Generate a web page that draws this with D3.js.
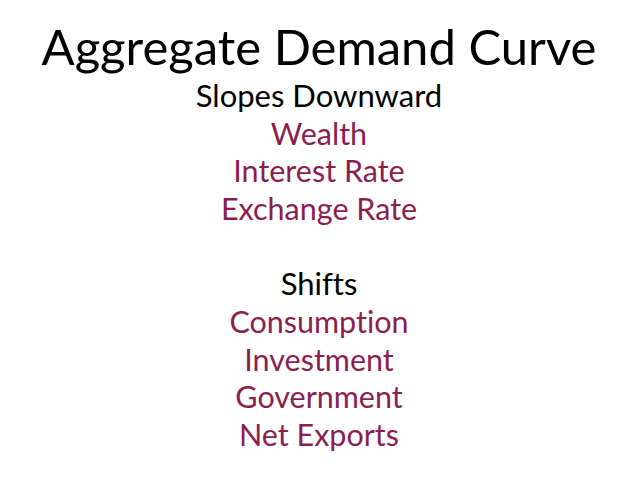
<!DOCTYPE html>
<html>
<head>
<meta charset="utf-8">
<script src="https://cdn.jsdelivr.net/npm/d3@7"></script>
<style>
  html, body { margin: 0; padding: 0; background: #fff; }
  svg { display: block; }
  text { font-variant-ligatures: none; }
</style>
</head>
<body>
<div id="slide"></div>
<script>
const width = 638
const height = 479

const TITLE = 'Aggregate Demand Curve'
// rows of the bullet list, '' is an empty row
const rows = ['Slopes Downward', 'Wealth', 'Interest Rate', 'Exchange Rate', '', 'Shifts', 'Consumption', 'Investment', 'Government', 'Net Exports']
const headings = ['Slopes Downward', 'Shifts']

const FONT = 'Lato, "Open Sans", sans-serif'
const MAROON = '#8b1e4f'

const svg = d3.select('#slide')
  .append('svg')
  .attr('width', width)
  .attr('height', height)

svg.append('rect').attr('width', width).attr('height', height).attr('fill', '#fff')

const yScale = d3.scaleLinear().domain([0, rows.length - 1]).range([107, 446])

svg.append('text')
  .attr('x', width / 2).attr('y', 65)
  .attr('text-anchor', 'middle')
  .attr('font-family', FONT).attr('font-size', 49)
  .attr('fill', '#000')
  .text(TITLE)

svg.selectAll('text.row')
  .data(rows.map((t, i) => ({t, i})).filter(d => d.t !== ''))
  .enter()
  .append('text')
  .classed('row', true)
  .attr('x', width / 2)
  .attr('y', d => yScale(d.i))
  .attr('text-anchor', 'middle')
  .attr('font-family', FONT)
  .attr('font-size', d => headings.includes(d.t) ? 31 : 30.5)
  .attr('fill', d => headings.includes(d.t) ? '#000' : MAROON)
  .text(d => d.t)
</script>
</body>
</html>
